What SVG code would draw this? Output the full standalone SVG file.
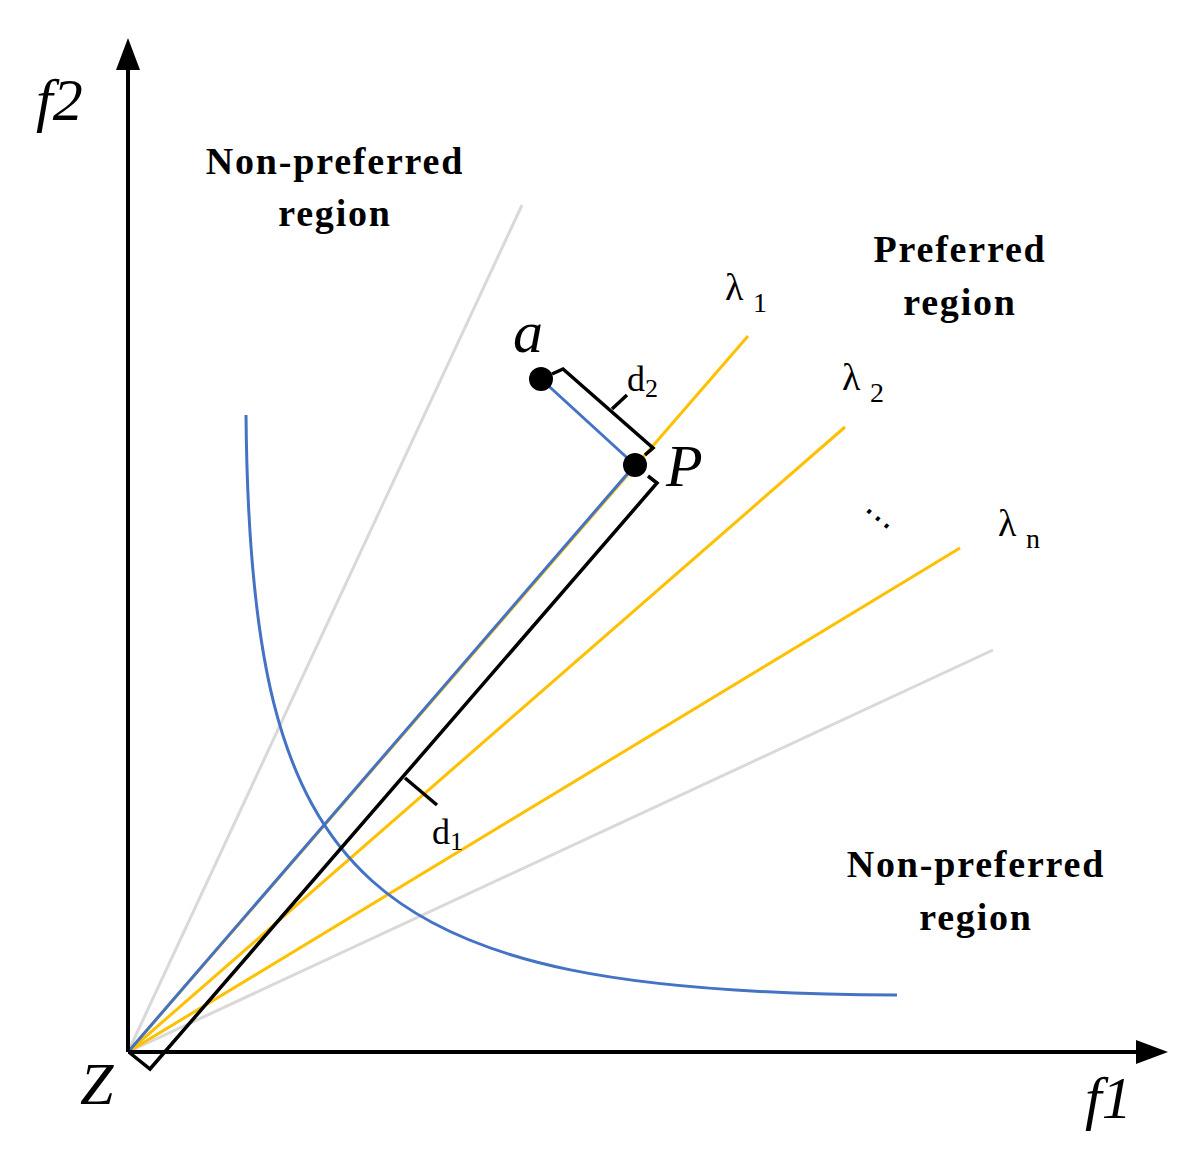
<svg xmlns="http://www.w3.org/2000/svg" width="1200" height="1172" viewBox="0 0 1200 1172">
<style>
.t{font-family:"Liberation Serif",serif;fill:#000}
.b{font-weight:bold;font-size:38px;letter-spacing:1.8px;text-anchor:middle}
.i{font-style:italic;font-size:60px}
.g{stroke:#d9d9d9;stroke-width:3;fill:none}
.y{stroke:#ffc000;stroke-width:3;fill:none}
.k{stroke:#000;stroke-width:3.5;fill:none}
</style>
<rect width="1200" height="1172" fill="#fff"/>
<g id="connectors">
<line class="g" x1="128" y1="1052" x2="522" y2="205"/>
<line class="g" x1="128" y1="1052" x2="993" y2="650"/>
<line class="y" x1="128" y1="1052" x2="748" y2="336"/>
<line class="y" x1="128" y1="1052" x2="845" y2="427"/>
<line class="y" x1="128" y1="1052" x2="960" y2="548"/>
<path d="M246,415 C250,885 360,993 897,995" stroke="#4472c4" stroke-width="3" fill="none"/>
<polyline points="128,1052 635,465 541,379" stroke="#4472c4" stroke-width="3" fill="none"/>
<polyline class="k" points="130,1053 150,1069 657,483 648,476"/>
<polyline class="k" points="552,374 563,369 653,448 645,455"/>
<line class="k" x1="405" y1="778" x2="437" y2="805"/>
<line class="k" x1="612" y1="409" x2="627" y2="395"/>
<line stroke="#000" stroke-width="4" x1="128" y1="1052" x2="128" y2="65"/>
<polygon points="128,38 116,70 140,70" fill="#000"/>
<line stroke="#000" stroke-width="4" x1="128" y1="1052" x2="1140" y2="1052"/>
<polygon points="1168,1052 1136,1040 1136,1064" fill="#000"/>
</g>
<g id="a"><circle cx="541" cy="379" r="12"/><text class="t i" x="513" y="352">a</text></g>
<g id="P"><circle cx="635" cy="465" r="12"/><text class="t i" x="666" y="486">P</text></g>
<g id="labels">
<text class="t i" x="36" y="120">f2</text>
<text class="t i" x="1085" y="1118">f1</text>
<text class="t i" x="80" y="1104">Z</text>
<text class="t b" x="335" y="174">Non-preferred</text>
<text class="t b" x="335" y="226">region</text>
<text class="t b" x="960" y="262">Preferred</text>
<text class="t b" x="960" y="315">region</text>
<text class="t b" x="976" y="877">Non-preferred</text>
<text class="t b" x="976" y="930">region</text>
<text class="t" font-size="38" x="725" y="300">λ <tspan font-size="28" dy="12">1</tspan></text>
<text class="t" font-size="38" x="842" y="390">λ <tspan font-size="28" dy="12">2</tspan></text>
<text class="t" font-size="38" x="998" y="536">λ <tspan font-size="28" dy="12">n</tspan></text>
<text class="t" font-size="36" x="627" y="391">d<tspan font-size="26" dy="6">2</tspan></text>
<text class="t" font-size="36" x="432" y="844">d<tspan font-size="26" dy="6">1</tspan></text>
<text class="t" font-size="34" x="858" y="525" transform="rotate(40 870 520)">⋯</text>
</g>
</svg>
